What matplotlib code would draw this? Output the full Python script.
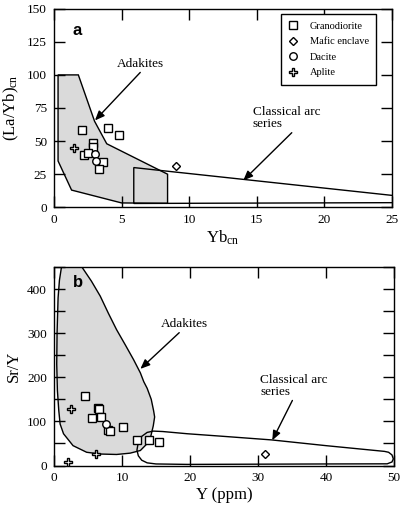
import matplotlib
matplotlib.use("Agg")
import matplotlib.pyplot as plt
from matplotlib.patches import Polygon
from matplotlib.ticker import MultipleLocator

plt.rcParams['font.family'] = ['Liberation Serif', 'DejaVu Serif']
plt.rcParams['mathtext.fontset'] = 'custom'
plt.rcParams['mathtext.rm'] = 'Liberation Serif'
plt.rcParams['mathtext.it'] = 'Liberation Serif:italic'

# ---------------- Panel a data: Yb_cn vs (La/Yb)_cn ----------------
a_grano_x = [2.1, 4.0, 4.8, 2.85, 2.85, 2.2, 2.5, 3.65, 3.35]
a_grano_y = [58.6, 60.1, 54.5, 48.5, 45.5, 39.5, 41.0, 34.2, 29.2]
a_mafic_x = [9.0]
a_mafic_y = [31.5]
a_dacite_x = [3.0, 3.1]
a_dacite_y = [40.5, 35.0]
a_aplite_x = [1.5]
a_aplite_y = [45.0]

a_adakite_x = [0.3, 1.8, 3.0, 3.9, 8.4, 8.4, 5.0, 1.3, 0.3]
a_adakite_y = [100, 100, 65, 48, 25, 3, 3.3, 13, 35]
a_arc_x = [5.9, 5.9, 25.0, 30.0, 30.0, 25.0]
a_arc_y = [2.9, 30.0, 9.0, 3.6, 3.6, 3.5]

# ---------------- Panel b data: Y (ppm) vs Sr/Y ----------------
b_grano_x = [4.6, 6.4, 6.6, 5.6, 6.9, 7.9, 8.3, 10.2, 12.2, 13.9, 15.4]
b_grano_y = [157, 131, 128, 108, 111, 81, 79, 88, 57, 58, 54]
b_mafic_x = [31.0]
b_mafic_y = [25]
b_dacite_x = [7.6]
b_dacite_y = [93]
b_aplite_x = [2.5, 6.2, 2.0]
b_aplite_y = [127, 25, 8]

b_adakite_x = [1.1, 0.8, 0.6, 0.45, 0.4, 0.5, 0.7, 0.9, 1.4, 2.8, 4.8, 6.8, 9.2,
               11.2, 12.7, 13.6, 14.2, 14.6, 14.8, 14.65, 14.3, 13.7, 13.2, 12.7,
               11.7, 10.5, 9.2, 8.0, 6.8, 5.5, 4.1, 3.6, 1.3]
b_adakite_y = [450, 420, 380, 300, 230, 170, 125, 94, 72, 45, 30, 26, 25,
               28, 34, 48, 64, 90, 110, 124, 150, 175, 190, 210,
               240, 273, 308, 345, 384, 418, 450, 462, 462]
b_arc_x = [12.4, 12.2, 12.4, 12.9, 13.7, 15.0, 19.6, 30.0, 40.0, 49.0, 49.7, 49.9,
           49.7, 49.2, 48.6, 40.0, 32.0, 25.0, 19.6, 16.0, 14.6, 13.7, 12.9]
b_arc_y = [53, 35, 22, 12, 6, 3.5, 2.5, 3.0, 3.5, 3.8, 8, 15,
           24, 30, 32, 45, 58, 66, 72, 77, 78, 75, 66]

legend_labels = ['Granodiorite', 'Mafic enclave', 'Dacite', 'Aplite']

GRAY = '#dadada'
MS = {'s': 5.2, 'D': 3.6, 'o': 5.4, 'P': 5.2}
fig = plt.figure(figsize=(4.01, 5.05), dpi=100)

def style_axes(ax):
    for s in ax.spines.values():
        s.set_linewidth(1.0)
    ax.tick_params(which='both', direction='in', top=True, right=True,
                   length=8, width=1.0, labelsize=9.5, pad=5)

def scatter_sets(ax, gx, gy, mx, my, dx, dy, px, py):
    ax.plot(gx, gy, ls='none', marker='s', ms=MS['s'], mfc='white', mec='black', mew=1.0, zorder=5)
    ax.plot(mx, my, ls='none', marker='D', ms=MS['D'], mfc='white', mec='black', mew=1.0, zorder=5)
    ax.plot(dx, dy, ls='none', marker='o', ms=MS['o'], mfc='white', mec='black', mew=1.0, zorder=6)
    ax.plot(px, py, ls='none', marker='P', ms=MS['P'], mfc='white', mec='black', mew=1.0, zorder=5)

arrow = dict(arrowstyle='-|>,head_length=0.6,head_width=0.25', color='black', lw=1.0,
             shrinkA=0, shrinkB=0)

# ---------------- Panel a ----------------
ax1 = fig.add_axes([54/401, (505-207.3)/505, (392-54)/401, (207.3-8.7)/505])
ax1.add_patch(Polygon(list(zip(a_adakite_x, a_adakite_y)), closed=True,
                      facecolor=GRAY, edgecolor='black', lw=1.0, zorder=1))
ax1.add_patch(Polygon(list(zip(a_arc_x, a_arc_y)), closed=True,
                      facecolor='none', edgecolor='black', lw=1.0, zorder=2))
scatter_sets(ax1, a_grano_x, a_grano_y, a_mafic_x, a_mafic_y,
             a_dacite_x, a_dacite_y, a_aplite_x, a_aplite_y)
ax1.set_xlim(0, 25)
ax1.set_ylim(0, 150)
ax1.xaxis.set_major_locator(MultipleLocator(5))
ax1.yaxis.set_major_locator(MultipleLocator(25))
style_axes(ax1)
ax1.set_xlabel(r'Yb$_{\rm cn}$', fontsize=12, labelpad=2)
ax1.set_ylabel(r'(La/Yb)$_{\rm cn}$', fontsize=12, labelpad=4)
ax1.text(0.055, 0.93, 'a', transform=ax1.transAxes, fontsize=12, fontweight='bold',
         family='Liberation Sans', va='top', ha='left')
ax1.annotate('Adakites', xy=(3.03, 65.6), xytext=(6.4, 108.5), fontsize=9.5,
             ha='center', va='center', arrowprops=dict(arrow, relpos=(0.55, 0.0)))
ax1.annotate('Classical arc\nseries', xy=(14.0, 20.3), xytext=(14.7, 67.5), fontsize=9.5,
             ha='left', va='center', linespacing=1.0,
             arrowprops=dict(arrow, relpos=(0.62, 0.0)))
h = [plt.Line2D([], [], ls='none', marker=m, ms=MS[m], mfc='white', mec='black', mew=1.0)
     for m in ['s', 'D', 'o', 'P']]
leg = ax1.legend(h, legend_labels, loc='upper right', bbox_to_anchor=(0.953, 0.972),
                 fontsize=7.5, frameon=True, fancybox=False, edgecolor='black',
                 framealpha=1, borderpad=0.7, handlelength=1.0, handletextpad=1.1,
                 labelspacing=0.6, borderaxespad=0)
leg.get_frame().set_linewidth(1.0)

# ---------------- Panel b ----------------
ax2 = fig.add_axes([54/401, (505-465.5)/505, (394-54)/401, (465.5-267)/505])
ax2.add_patch(Polygon(list(zip(b_adakite_x, b_adakite_y)), closed=True,
                      facecolor=GRAY, edgecolor='black', lw=1.0, zorder=1))
ax2.add_patch(Polygon(list(zip(b_arc_x, b_arc_y)), closed=True,
                      facecolor='none', edgecolor='black', lw=1.0, zorder=2))
scatter_sets(ax2, b_grano_x, b_grano_y, b_mafic_x, b_mafic_y,
             b_dacite_x, b_dacite_y, b_aplite_x, b_aplite_y)
ax2.set_xlim(0, 50)
ax2.set_ylim(0, 450)
ax2.xaxis.set_major_locator(MultipleLocator(10))
ax2.yaxis.set_major_locator(MultipleLocator(100))
ax2.yaxis.set_minor_locator(MultipleLocator(50))
style_axes(ax2)
ax2.set_xlabel('Y (ppm)', fontsize=12, labelpad=2)
ax2.set_ylabel('Sr/Y', fontsize=12, labelpad=4)
ax2.text(0.055, 0.96, 'b', transform=ax2.transAxes, fontsize=12, fontweight='bold',
         family='Liberation Sans', va='top', ha='left')
ax2.annotate('Adakites', xy=(12.7, 219), xytext=(19.2, 321), fontsize=9.5,
             ha='center', va='center', arrowprops=dict(arrow, relpos=(0.45, 0.0)))
ax2.annotate('Classical arc\nseries', xy=(32.1, 57), xytext=(30.3, 181), fontsize=9.5,
             ha='left', va='center', linespacing=1.0,
             arrowprops=dict(arrow, relpos=(0.5, 0.0)))

fig.savefig('out.png', dpi=100)
